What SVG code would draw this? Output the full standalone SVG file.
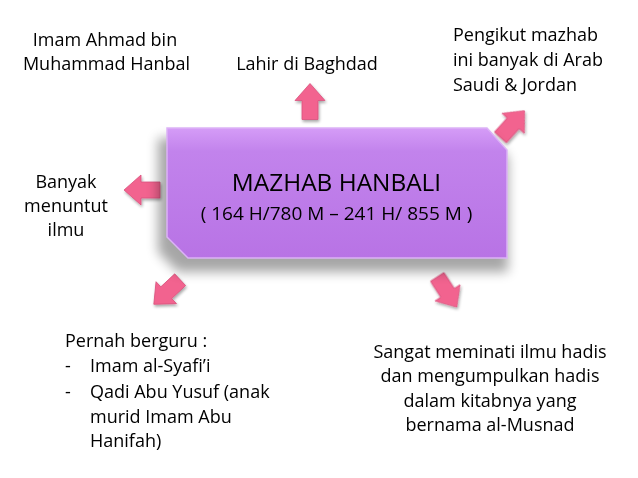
<svg xmlns="http://www.w3.org/2000/svg" width="638" height="478" viewBox="0 0 638 478">
  <defs>
    <style>
      text { font-family: "Open Sans", "Liberation Sans", sans-serif; fill: #000; }
      .lbl { font-size: 18px; }
      .mid { text-anchor: middle; }
      .arrow { fill: #f2648f; stroke: #d9527d; stroke-width: 0.8; }
    </style>
    <linearGradient id="boxFill" x1="0" y1="0" x2="0" y2="1">
      <stop offset="0" stop-color="#d59cf7"/>
      <stop offset="0.18" stop-color="#c283ec"/>
      <stop offset="1" stop-color="#b873e5"/>
    </linearGradient>
    <filter id="boxShadow" x="-20%" y="-30%" width="140%" height="170%">
      <feGaussianBlur stdDeviation="6"/>
    </filter>
    <filter id="arrowShadow" x="-50%" y="-50%" width="200%" height="200%">
      <feGaussianBlur in="SourceAlpha" stdDeviation="1.5"/>
      <feOffset dx="1" dy="2" result="b"/>
      <feComponentTransfer><feFuncA type="linear" slope="0.35"/></feComponentTransfer>
      <feMerge><feMergeNode/><feMergeNode in="SourceGraphic"/></feMerge>
    </filter>
    <path id="arr" d="M0,-18 L15,-1 L8,-1 L8,18 L-8,18 L-8,-1 L-15,-1 Z"/>
  </defs>
  <rect width="638" height="478" fill="#ffffff"/>

  <g id="connectors" filter="url(#arrowShadow)">
    <use href="#arr" class="arrow" transform="translate(310,101.5)"/>
    <use href="#arr" class="arrow" transform="translate(142,190) rotate(-90)"/>
    <use href="#arr" class="arrow" transform="translate(512.5,124) rotate(42)"/>
    <use href="#arr" class="arrow" transform="translate(167,292) rotate(-133)"/>
    <use href="#arr" class="arrow" transform="translate(447,292) rotate(147)"/>
  </g>

  <g id="center-node">
    <path d="M158,138 L490,138 L508,158 L508,272 L178,272 L158,252 Z" fill="#000" opacity="0.35" filter="url(#boxShadow)"/>
    <path d="M167,128 L487,128 L507,150 L507,258 L188,258 L167,237 Z" fill="url(#boxFill)" stroke="#dcb2f6" stroke-width="1.5"/>
    <text x="336.5" y="191" class="mid" font-size="24.4">MAZHAB HANBALI</text>
    <text x="336.5" y="220" class="mid" font-size="19">( 164 H/780 M – 241 H/ 855 M )</text>
  </g>

  <g id="node-imam">
    <text class="lbl mid" x="105" y="46">Imam Ahmad bin</text>
    <text class="lbl mid" x="106.5" y="70">Muhammad Hanbal</text>
  </g>

  <g id="node-lahir">
    <text class="lbl mid" x="307" y="70">Lahir di Baghdad</text>
  </g>

  <g id="node-pengikut">
    <text class="lbl" x="453" y="41">Pengikut mazhab</text>
    <text class="lbl" x="453" y="66">ini banyak di Arab</text>
    <text class="lbl" x="453" y="91">Saudi &amp; Jordan</text>
  </g>

  <g id="node-banyak">
    <text class="lbl mid" x="66" y="188">Banyak</text>
    <text class="lbl mid" x="66" y="212">menuntut</text>
    <text class="lbl mid" x="66" y="236">ilmu</text>
  </g>

  <g id="node-berguru">
    <text class="lbl" x="65" y="347">Pernah berguru :</text>
    <text class="lbl" x="65" y="372">-</text>
    <text class="lbl" x="90" y="372">Imam al-Syafi’i</text>
    <text class="lbl" x="65" y="398">-</text>
    <text class="lbl" x="90" y="398">Qadi Abu Yusuf (anak</text>
    <text class="lbl" x="90" y="423">murid Imam Abu</text>
    <text class="lbl" x="90" y="447">Hanifah)</text>
  </g>

  <g id="node-hadis">
    <text class="lbl mid" x="490" y="358">Sangat meminati ilmu hadis</text>
    <text class="lbl mid" x="490" y="382">dan mengumpulkan hadis</text>
    <text class="lbl mid" x="490" y="407">dalam kitabnya yang</text>
    <text class="lbl mid" x="490" y="431">bernama al-Musnad</text>
  </g>
</svg>
